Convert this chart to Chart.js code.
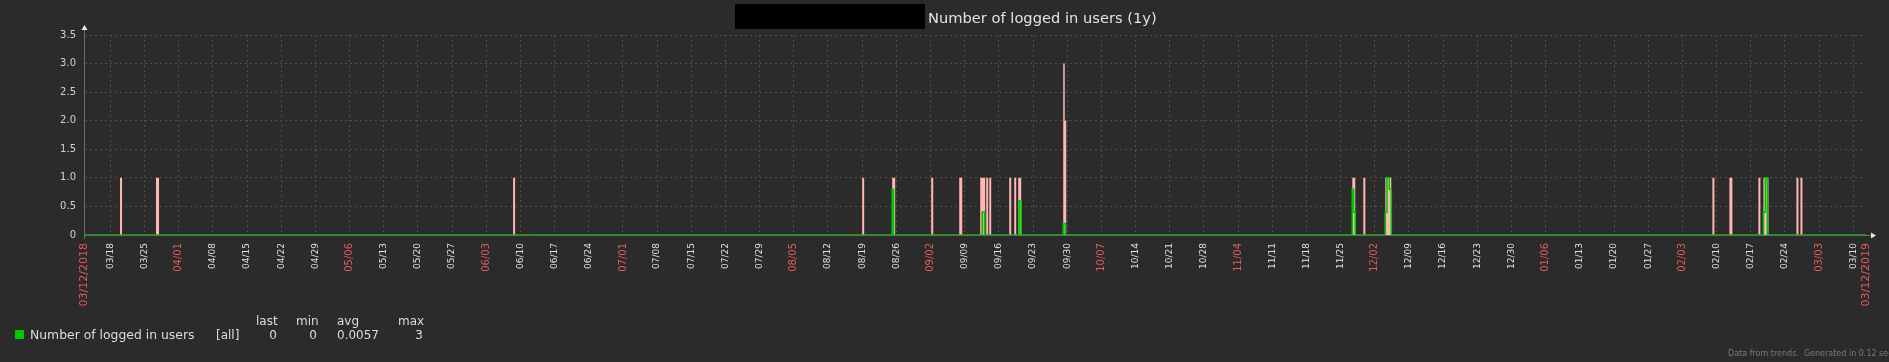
<!DOCTYPE html>
<html><head><meta charset="utf-8">
<script src="https://cdn.jsdelivr.net/npm/chart.js@4/dist/chart.umd.min.js"></script>
<style>
html,body{margin:0;padding:0;background:#2b2b2b;overflow:hidden;width:1889px;height:362px;}
#wrap{position:relative;width:1889px;height:362px;overflow:hidden;}
canvas{position:absolute;left:0;top:0;}
.t{position:absolute;font-family:"DejaVu Sans";white-space:nowrap;color:#dcdcdc;}
</style></head><body>
<div id="wrap">
<canvas id="c" width="1889" height="362"></canvas>
<div style="position:absolute;left:735px;top:4px;width:190px;height:25px;background:#000"></div>
<div class="t" style="left:928px;top:10.6px;font-size:14.67px;line-height:14.67px;color:#e2e2e2">Number of logged in users (1y)</div>
<div style="position:absolute;left:15px;top:330px;width:9px;height:9px;background:#00c800"></div>
<div class="t" id="lgName" style="left:30px;top:328.6px;font-size:12.4px;line-height:12.4px">Number of logged in users</div>
<div class="t" style="left:216px;top:328.9px;font-size:12px;line-height:12px">[all]</div>
<div class="t" style="left:256px;top:314.9px;font-size:12px;line-height:12px">last</div>
<div class="t" style="left:296px;top:314.9px;font-size:12px;line-height:12px">min</div>
<div class="t" style="left:337px;top:314.9px;font-size:12px;line-height:12px">avg</div>
<div class="t" style="left:398px;top:314.9px;font-size:12px;line-height:12px">max</div>
<div class="t" style="right:calc(1889px - 277px);top:328.9px;font-size:12px;line-height:12px">0</div>
<div class="t" style="right:calc(1889px - 317px);top:328.9px;font-size:12px;line-height:12px">0</div>
<div class="t" style="left:337px;top:328.9px;font-size:12px;line-height:12px">0.0057</div>
<div class="t" style="right:calc(1889px - 423px);top:328.9px;font-size:12px;line-height:12px">3</div>
<div class="t" style="left:1728px;top:350px;font-size:8px;line-height:8px;color:#7a7a7a">Data from trends.&nbsp; Generated in 0.12 sec</div>
</div>
<script>
// ---- data (x in days since 2018-03-12 00:00) ----
const xMin = 0.61, xMax = 365.61;
const weekDays = [6,13,20,27,34,41,48,55,62,69,76,83,90,97,104,111,118,125,132,139,146,153,160,167,174,181,188,195,202,209,216,223,230,237,244,251,258,265,272,279,286,293,300,307,314,321,328,335,342,349,356,363];
const weekLabels = ['03/18','03/25','04/01','04/08','04/15','04/22','04/29','05/06','05/13','05/20','05/27','06/03','06/10','06/17','06/24','07/01','07/08','07/15','07/22','07/29','08/05','08/12','08/19','08/26','09/02','09/09','09/16','09/23','09/30','10/07','10/14','10/21','10/28','11/04','11/11','11/18','11/25','12/02','12/09','12/16','12/23','12/30','01/06','01/13','01/20','01/27','02/03','02/10','02/17','02/24','03/03','03/10'];
const startLabel = '03/12/2018', endLabel = '03/12/2019';
const yTicks = [0,0.5,1,1.5,2,2.5,3,3.5];

const maxStart = [7.99,15.36,88.50,160.00,166.15,174.14,179.88,184.18,185.41,186.03,190.12,191.14,191.96,201.18,201.49,260.39,262.65,267.15,334.15,337.63,343.57,344.60,351.36,352.18];
const maxEnd   = [8.40,15.98,88.91,160.41,166.76,174.55,180.49,185.20,185.82,186.43,190.53,191.55,192.57,201.49,201.80,261.00,263.06,268.38,334.56,338.24,343.98,345.63,351.77,352.59];
const maxVal   = [1,1,1,1,1,1,1,1,1,1,1,1,1,3,2,1,1,1,1,1,1,1,1,1];

const avgStart = [166.15,184.59,192.16,201.18,260.39,260.66,267.15,267.50,267.97,344.60,345.00];
const avgEnd   = [166.42,185.06,192.57,201.59,260.66,261.00,267.50,267.97,268.38,345.00,345.42];
const avgVal   = [0.8,0.4,0.6,0.2,0.8,0.4,0.4,1.0,0.8,0.4,1.0];

function stepPoints(starts, ends, vals){
  const pts = [{x:xMin, y:0}];
  for (let i=0;i<starts.length;i++){
    pts.push({x:starts[i], y:vals[i]});
    const ns = i+1<starts.length ? starts[i+1] : null;
    if (ns === null || Math.abs(ns-ends[i])>0.001) pts.push({x:ends[i], y:0});
  }
  pts.push({x:xMax, y:0});
  return pts;
}

const allTickDays = [xMin, ...weekDays, xMax];
const allTickLabels = [startLabel, ...weekLabels, endLabel];
function lblAt(i){ return (i!==undefined && allTickLabels[i]) ? allTickLabels[i] : ''; }
function isMajor(lbl){ return lbl.length>5 || (lbl.length>0 && parseInt(lbl.split('/')[1],10)<=7); }

const arrows = {
  id:'arrows',
  afterDraw(chart){
    const ctx = chart.ctx, a = chart.chartArea;
    ctx.save();
    ctx.strokeStyle = '#6a6a6a'; ctx.lineWidth = 1;
    ctx.beginPath();
    ctx.moveTo(a.left+0.5, a.top); ctx.lineTo(a.left+0.5, a.top-7);
    ctx.moveTo(a.left+0.5, a.bottom); ctx.lineTo(a.left+0.5, a.bottom+4);
    ctx.moveTo(a.right, a.bottom+0.5); ctx.lineTo(a.right+6, a.bottom+0.5);
    ctx.stroke();
    ctx.fillStyle = '#e8e8e8';
    ctx.beginPath();
    ctx.moveTo(a.left+0.5, a.top-10); ctx.lineTo(a.left-2.5, a.top-5); ctx.lineTo(a.left+3.5, a.top-5); ctx.closePath(); ctx.fill();
    ctx.beginPath();
    ctx.moveTo(a.right+10, a.bottom+0.5); ctx.lineTo(a.right+5, a.bottom-2.5); ctx.lineTo(a.right+5, a.bottom+3.5); ctx.closePath(); ctx.fill();
    ctx.restore();
  }
};

new Chart(document.getElementById('c'), {
  type:'line',
  data:{datasets:[
    {label:'avg', data:stepPoints(avgStart, avgEnd, avgVal), stepped:'before', borderColor:'#00c800', borderWidth:1.6, pointRadius:0, fill:false, order:0},
    {label:'max', data:stepPoints(maxStart, maxEnd, maxVal), stepped:'before', borderColor:'rgba(0,0,0,0)', borderWidth:0, backgroundColor:'#ffb6b4', pointRadius:0, fill:'origin', order:1}
  ]},
  options:{
    responsive:false, animation:false, devicePixelRatio:1,
    layout:{padding:{left:0, right:23, top:35, bottom:0}},
    plugins:{legend:{display:false}, tooltip:{enabled:false}, title:{display:false}},
    scales:{
      x:{type:'linear', min:xMin, max:xMax, offset:false,
        afterFit(s){ s.height = 127; },
        afterBuildTicks(s){ s.ticks = allTickDays.map(v=>({value:v})); },
        grid:{drawTicks:false, color:(c)=> (c.index===0 || c.index===allTickDays.length-1) ? 'rgba(0,0,0,0)' : '#4e4e4e', lineWidth:1},
        border:{display:true, color:'#6a6a6a', dash:[2,3]},
        ticks:{autoSkip:false, minRotation:90, maxRotation:90, padding:8,
          callback:(v,i)=>allTickLabels[i],
          color:(c)=> isMajor(lblAt(c.index)) ? '#e45959' : '#e0e0e0',
          font:(c)=>{ const l = lblAt(c.index); return {family:'DejaVu Sans', size: l.length>5 ? 11 : (isMajor(l) ? 10 : 9)}; }
        }
      },
      y:{type:'linear', min:0, max:3.5,
        afterFit(s){ s.width = 84; },
        afterBuildTicks(s){ s.ticks = yTicks.map(v=>({value:v})); },
        grid:{drawTicks:false, color:'#4e4e4e', lineWidth:1},
        border:{display:true, color:'#6a6a6a', dash:[2,3]},
        ticks:{padding:8, color:'#d2d2d2', font:{family:'DejaVu Sans', size:10},
          callback:(v)=> v===0 ? '0' : v.toFixed(1)}
      }
    }
  },
  plugins:[arrows]
});
</script>
</body></html>
